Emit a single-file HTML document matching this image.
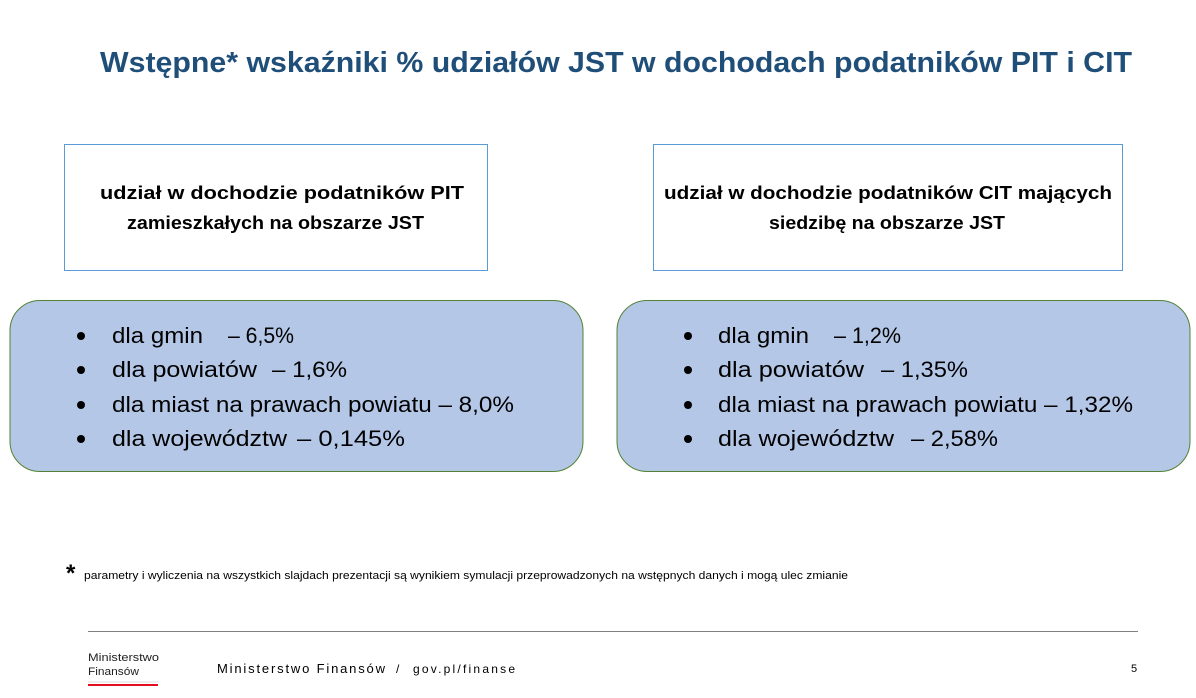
<!DOCTYPE html>
<html><head><meta charset="utf-8"><style>
html,body{margin:0;padding:0;background:#fff;}
svg{display:block;}
text{font-family:"Liberation Sans",sans-serif;}
</style></head><body>
<svg width="1196" height="698" viewBox="0 0 1196 698" xmlns="http://www.w3.org/2000/svg">
<text x="100" y="72" font-size="29" font-weight="bold" fill="#1f4e79" textLength="1032" lengthAdjust="spacingAndGlyphs">Wstępne* wskaźniki % udziałów JST w dochodach podatników PIT i CIT</text>

<rect x="64.5" y="144.5" width="423" height="126" fill="#fff" stroke="#5b9bd5" stroke-width="1"/>
<text x="100" y="199" font-size="18" font-weight="bold" fill="#000" textLength="364" lengthAdjust="spacingAndGlyphs">udział w dochodzie podatników PIT</text>
<text x="127" y="229" font-size="18" font-weight="bold" fill="#000" textLength="297" lengthAdjust="spacingAndGlyphs">zamieszkałych na obszarze JST</text>

<rect x="653.5" y="144.5" width="469" height="126" fill="#fff" stroke="#5b9bd5" stroke-width="1"/>
<text x="664" y="199" font-size="18" font-weight="bold" fill="#000" textLength="448" lengthAdjust="spacingAndGlyphs">udział w dochodzie podatników CIT mających</text>
<text x="769" y="229" font-size="18" font-weight="bold" fill="#000" textLength="236" lengthAdjust="spacingAndGlyphs">siedzibę na obszarze JST</text>

<rect x="10" y="300.5" width="573" height="171" rx="30" fill="#b4c7e7" stroke="#548235" stroke-width="1"/>
<rect x="617" y="300.5" width="573" height="171" rx="30" fill="#b4c7e7" stroke="#548235" stroke-width="1"/>

<g fill="#000" font-size="22">
<circle cx="81" cy="336" r="4"/><circle cx="81" cy="370" r="4"/><circle cx="81" cy="405" r="4"/><circle cx="81" cy="439" r="4"/>
<text x="112" y="343" textLength="91" lengthAdjust="spacingAndGlyphs">dla gmin</text>
<text x="228" y="343" textLength="66" lengthAdjust="spacingAndGlyphs">– 6,5%</text>
<text x="112" y="377" textLength="145" lengthAdjust="spacingAndGlyphs">dla powiatów</text>
<text x="272" y="377" textLength="75" lengthAdjust="spacingAndGlyphs">– 1,6%</text>
<text x="112" y="412" textLength="402" lengthAdjust="spacingAndGlyphs">dla miast na prawach powiatu – 8,0%</text>
<text x="112" y="446" textLength="175" lengthAdjust="spacingAndGlyphs">dla województw</text>
<text x="297" y="446" textLength="108" lengthAdjust="spacingAndGlyphs">– 0,145%</text>

<circle cx="688" cy="336" r="4"/><circle cx="688" cy="370" r="4"/><circle cx="688" cy="405" r="4"/><circle cx="688" cy="439" r="4"/>
<text x="718" y="343" textLength="91" lengthAdjust="spacingAndGlyphs">dla gmin</text>
<text x="834" y="343" textLength="67" lengthAdjust="spacingAndGlyphs">– 1,2%</text>
<text x="718" y="377" textLength="146" lengthAdjust="spacingAndGlyphs">dla powiatów</text>
<text x="881" y="377" textLength="87" lengthAdjust="spacingAndGlyphs">– 1,35%</text>
<text x="718" y="412" textLength="415" lengthAdjust="spacingAndGlyphs">dla miast na prawach powiatu – 1,32%</text>
<text x="718" y="446" textLength="176" lengthAdjust="spacingAndGlyphs">dla województw</text>
<text x="911" y="446" textLength="87" lengthAdjust="spacingAndGlyphs">– 2,58%</text>
</g>

<text x="66" y="581" font-size="24" font-weight="bold" fill="#000">*</text>
<text x="84" y="579" font-size="11" fill="#000" textLength="764" lengthAdjust="spacingAndGlyphs">parametry i wyliczenia na wszystkich slajdach prezentacji są wynikiem symulacji przeprowadzonych na wstępnych danych i mogą ulec zmianie</text>

<line x1="88" y1="631.5" x2="1138" y2="631.5" stroke="#7f7f7f" stroke-width="1"/>
<text x="88" y="661" font-size="11" fill="#222" textLength="71" lengthAdjust="spacingAndGlyphs">Ministerstwo</text>
<text x="88" y="675" font-size="11" fill="#222" textLength="51" lengthAdjust="spacingAndGlyphs">Finansów</text>
<line x1="88" y1="682" x2="158" y2="682" stroke="#ddd" stroke-width="1"/>
<line x1="88" y1="685" x2="158" y2="685" stroke="#e30f20" stroke-width="2"/>
<text x="217" y="673" font-size="13" fill="#000" textLength="168" lengthAdjust="spacing">Ministerstwo Finansów</text>
<text x="396" y="673" font-size="12" fill="#000">/</text>
<text x="413" y="673" font-size="12" fill="#000" textLength="102" lengthAdjust="spacing">gov.pl/finanse</text>
<text x="1131" y="672" font-size="11" fill="#000">5</text>
</svg>
</body></html>
